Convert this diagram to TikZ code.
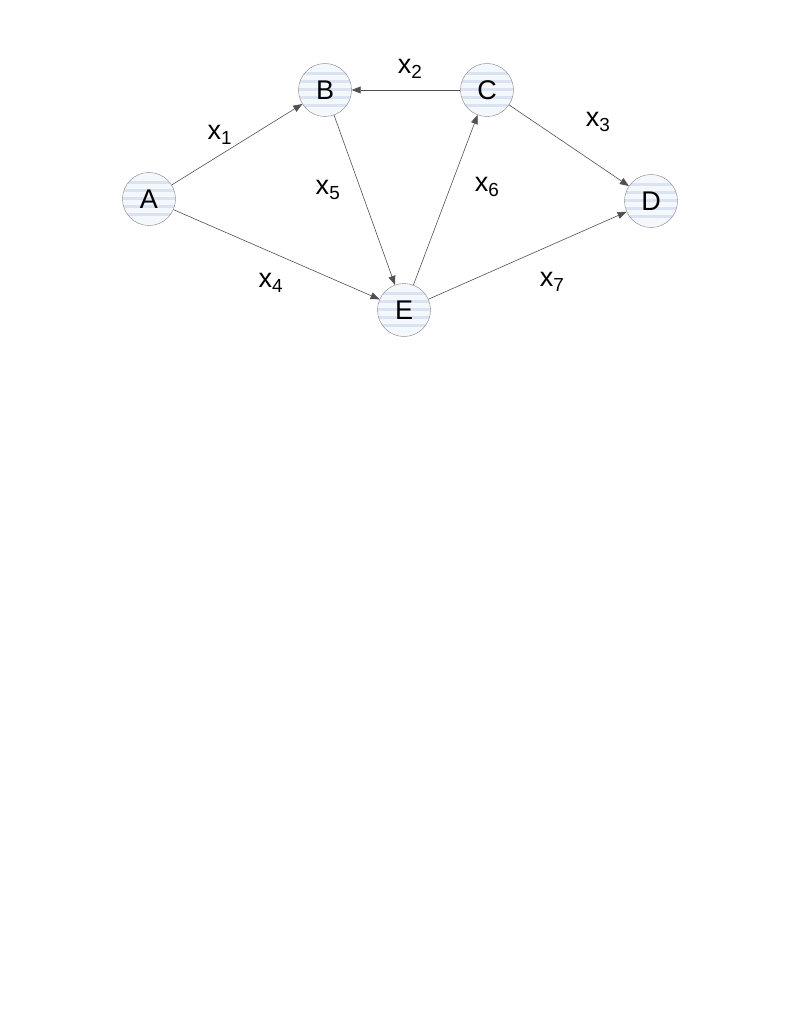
\documentclass[tikz,border=0pt]{standalone}
\usepackage{fontspec}
\setmainfont{Liberation Sans}
\usetikzlibrary{arrows.meta}
\definecolor{stripe}{RGB}{218,227,242}
\definecolor{ballfill}{RGB}{244,247,252}
\definecolor{edgegray}{RGB}{80,80,80}

\begin{document}
\begin{tikzpicture}[x=1pt,y=-1pt,
  ball/.style={circle,draw=gray,fill=ballfill,minimum size=53pt,inner sep=0pt,
    font=\fontsize{27}{27}\selectfont,
    path picture={
      \foreach \dy in {-17,-9,-1,7,15}
        \fill[stripe] ([yshift=\dy pt]path picture bounding box.west) rectangle
          ([yshift=\dy pt+3pt]path picture bounding box.east);
    }},
  flow/.style={draw=edgegray,line width=0.6pt,-{Triangle[length=9pt,width=7pt]}},
  lbl/.style={font=\fontsize{27}{27}\selectfont}]
\useasboundingbox (0,0) rectangle (791,1024);

%nodes
\node[ball] (A) at (149,199) {A};
\node[ball] (B) at (325,90) {B};
\node[ball] (C) at (487,90) {C};
\node[ball] (D) at (651,201) {D};
\node[ball] (E) at (404,310) {E};

%edges
\draw[flow] (A) -- (B);
\draw[flow] (C) -- (B);
\draw[flow] (C) -- (D);
\draw[flow] (A) -- (E);
\draw[flow] (B) -- (E);
\draw[flow] (E) -- (C);
\draw[flow] (E) -- (D);

%labels
\node[lbl] (x1) at (220,135) {x\textsubscript{1}};
\node[lbl] (x2) at (410,69) {x\textsubscript{2}};
\node[lbl] (x3) at (598,122) {x\textsubscript{3}};
\node[lbl] (x4) at (271,283) {x\textsubscript{4}};
\node[lbl] (x5) at (328,190) {x\textsubscript{5}};
\node[lbl] (x6) at (487,187) {x\textsubscript{6}};
\node[lbl] (x7) at (552,282) {x\textsubscript{7}};
\end{tikzpicture}
\end{document}
